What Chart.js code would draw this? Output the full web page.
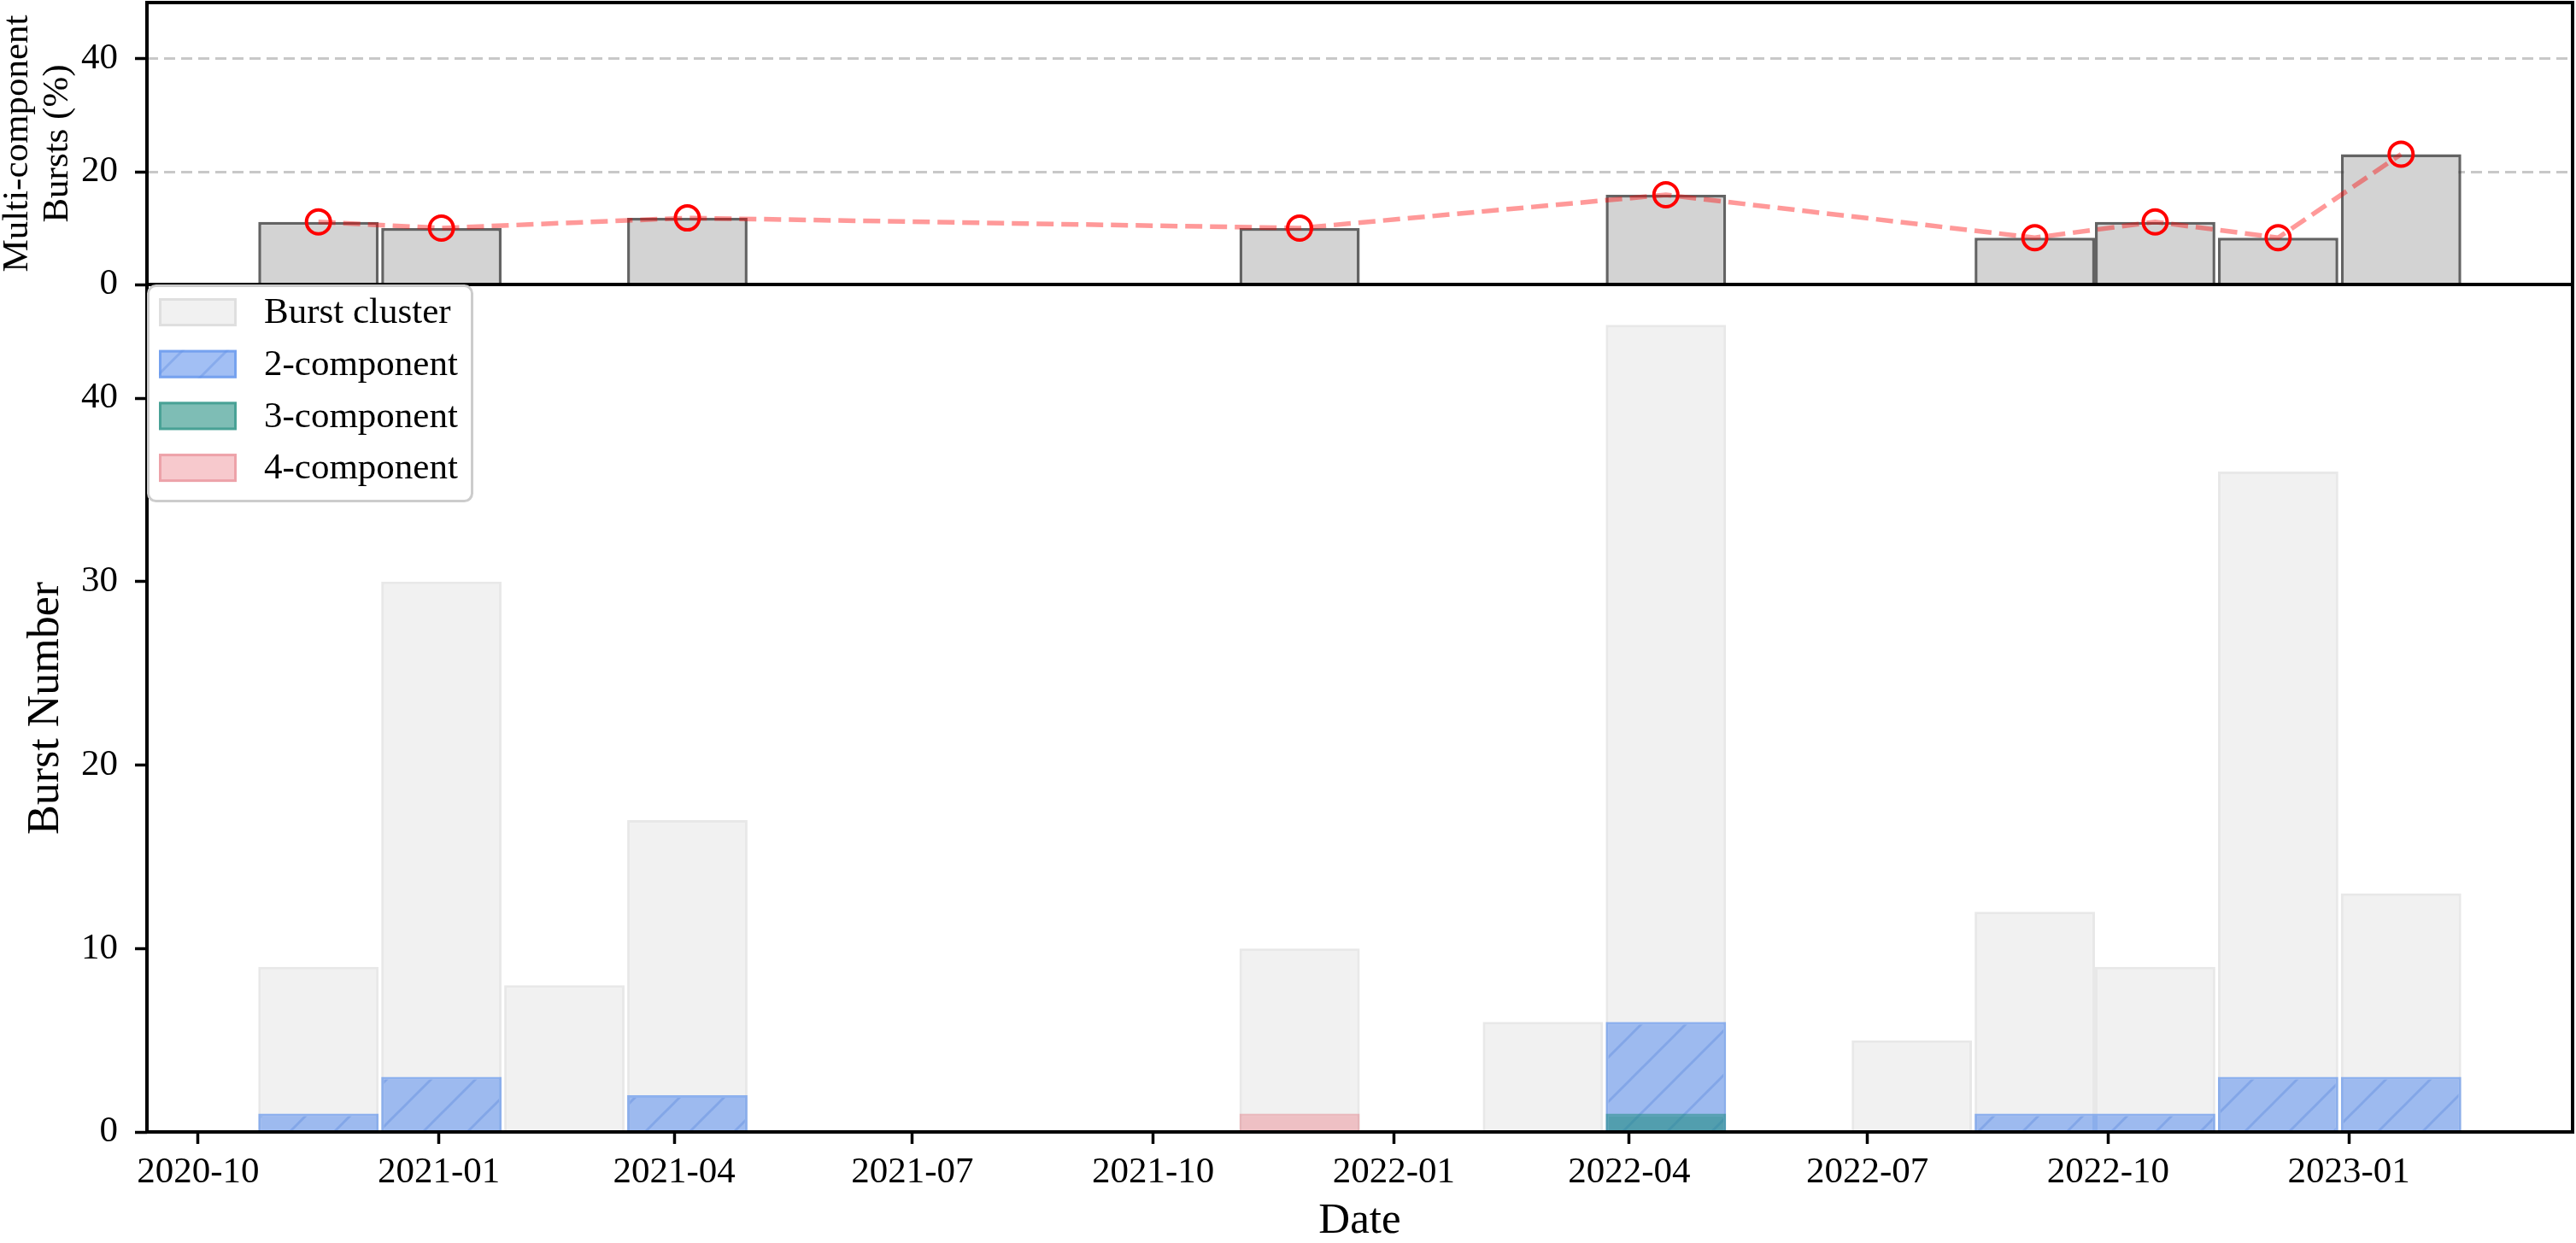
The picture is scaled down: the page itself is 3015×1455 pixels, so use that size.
<!DOCTYPE html>
<html lang="pt-BR">
<head>
<meta charset="utf-8">
<title>Multi-component bursts</title>
<script src="https://cdn.jsdelivr.net/npm/chart.js@4.4.1/dist/chart.umd.min.js"></script>
<style>
  html, body { margin: 0; padding: 0; background: #fff; }
  #painel { position: relative; width: 3015px; height: 1455px; }
  #painel canvas { position: absolute; left: 0; top: 0; }
</style>
</head>
<body>
<div id="painel">
  <canvas id="graficoPercentual" width="3015" height="1455"></canvas>
  <canvas id="graficoBursts" width="3015" height="1455"></canvas>
</div>
<script>
// Dados: um valor por bin do histograma
const centrosDosBins = [
    '2020-11-16', '2021-01-02', '2021-02-18', '2021-04-06', '2021-05-23', '2021-07-08',
    '2021-08-24', '2021-10-10', '2021-11-26', '2022-01-12', '2022-02-27', '2022-04-15',
    '2022-06-01', '2022-07-18', '2022-09-03', '2022-10-19', '2022-12-05', '2023-01-21'
];
const larguraDoBinDias = 46.8;

const burstCluster      = [9, 30, 8, 17, 0, 0, 0, 0, 10, 0, 6, 44, 0, 5, 12, 9, 36, 13];
const doisComponentes   = [1, 3, 0, 2, 0, 0, 0, 0, 0, 0, 0, 6, 0, 0, 1, 1, 3, 3];
const tresComponentes   = [0, 0, 0, 0, 0, 0, 0, 0, 0, 0, 0, 1, 0, 0, 0, 0, 0, 0];
const quatroComponentes = [0, 0, 0, 0, 0, 0, 0, 0, 1, 0, 0, 0, 0, 0, 0, 0, 0, 0];
const percentualMulti   = [11.1, 10.0, 0, 11.8, 0, 0, 0, 0, 10.0, 0, 0, 15.9, 0, 0, 8.3, 11.1, 8.3, 23.1];

const datasDosTicks = [
    '2020-10-01', '2021-01-01', '2021-04-01', '2021-07-01', '2021-10-01',
    '2022-01-01', '2022-04-01', '2022-07-01', '2022-10-01', '2023-01-01'
];
const ticksPercentual = [0, 20, 40];
const ticksBursts = [0, 10, 20, 30, 40];
const maxPercentual = 50;
const maxBursts = 46.2;

const FONTE = "'Liberation Serif', 'Times New Roman', serif";
Chart.defaults.font.family = FONTE;
Chart.defaults.color = '#000';

/**
 * @description Converte uma data ISO em dias desde o primeiro tick.
 */
function diasDesde(data) {
    return (Date.parse(data) - Date.parse(datasDosTicks[0])) / 86400000;
}

const xCentros = centrosDosBins.map(diasDesde);
const valoresDosTicks = datasDosTicks.map(diasDesde);
const rotulosDosTicks = datasDosTicks.map(d => d.slice(0, 7));

// Limites do eixo x com margem de 5% (como o matplotlib)
const bordaInicial = xCentros[0] - larguraDoBinDias / 2;
const bordaFinal = xCentros[xCentros.length - 1] + larguraDoBinDias / 2;
const margemX = 0.05 * (bordaFinal - bordaInicial);
const xMin = bordaInicial - margemX;
const xMax = bordaFinal + margemX;

/**
 * @description Monta os pontos {x, y}; valores zero viram null (sem barra).
 */
function pontos(serie) {
    return serie.map((v, i) => ({ x: xCentros[i], y: v > 0 ? v : null }));
}

/**
 * @description Cria o padrão hachurado "/" das barras de 2 componentes.
 */
function criarHachura(ctx, corFundo, corLinha) {
    const s = 52;
    const tile = document.createElement('canvas');
    tile.width = s;
    tile.height = s;
    const g = tile.getContext('2d');
    g.fillStyle = corFundo;
    g.fillRect(0, 0, s, s);
    g.strokeStyle = corLinha;
    g.lineWidth = 3;
    g.beginPath();
    g.moveTo(-s / 2, s / 2); g.lineTo(s / 2, -s / 2);
    g.moveTo(0, s); g.lineTo(s, 0);
    g.moveTo(s / 2, 1.5 * s); g.lineTo(1.5 * s, s / 2);
    g.stroke();
    return ctx.createPattern(tile, 'repeat');
}

// Desenha a moldura completa (4 lados) da área do gráfico
const pluginMoldura = {
    id: 'moldura',
    afterDatasetsDraw(chart) {
        const { ctx, chartArea: a } = chart;
        ctx.save();
        ctx.strokeStyle = '#000';
        ctx.lineWidth = 4;
        ctx.strokeRect(a.left, a.top, a.right - a.left, a.bottom - a.top);
        ctx.restore();
    }
};

// Legenda no canto superior esquerdo do painel inferior
const pluginLegenda = {
    id: 'legendaInterna',
    afterDraw(chart) {
        const { ctx, chartArea: a } = chart;
        const x0 = a.left + 1.5, y0 = a.top + 1.5, w = 379, h = 252, r = 9;
        ctx.save();
        ctx.beginPath();
        ctx.moveTo(x0 + r, y0);
        ctx.arcTo(x0 + w, y0, x0 + w, y0 + h, r);
        ctx.arcTo(x0 + w, y0 + h, x0, y0 + h, r);
        ctx.arcTo(x0, y0 + h, x0, y0, r);
        ctx.arcTo(x0, y0, x0 + w, y0, r);
        ctx.closePath();
        ctx.fillStyle = 'rgba(255,255,255,0.8)';
        ctx.fill();
        ctx.strokeStyle = '#cccccc';
        ctx.lineWidth = 3;
        ctx.stroke();

        chart.data.datasets.forEach((ds, i) => {
            const yTopo = a.top + 16 + i * 60.7;
            const xCaixa = a.left + 14;
            ctx.fillStyle = '#fff';
            ctx.fillRect(xCaixa, yTopo, 91, 33);
            ctx.fillStyle = ds.backgroundColor;
            ctx.fillRect(xCaixa, yTopo, 91, 33);
            ctx.strokeStyle = ds.borderColor;
            ctx.lineWidth = 3;
            ctx.strokeRect(xCaixa + 1.5, yTopo + 1.5, 88, 30);
            ctx.fillStyle = '#000';
            ctx.font = '43px ' + FONTE;
            ctx.textBaseline = 'middle';
            ctx.textAlign = 'left';
            ctx.fillText(ds.label, a.left + 137, yTopo + 18);
        });
        ctx.restore();
    }
};

/**
 * @description Configuração do eixo x compartilhado pelos dois painéis.
 */
function eixoX(comRotulos) {
    return {
        type: 'linear',
        display: comRotulos,
        min: xMin,
        max: xMax,
        offset: false,
        afterBuildTicks: escala => { escala.ticks = valoresDosTicks.map(v => ({ value: v })); },
        afterFit: escala => {
            if (comRotulos) escala.height = 130;
            escala.paddingLeft = 0;
            escala.paddingRight = 0;
        },
        ticks: {
            callback: (valor, i) => rotulosDosTicks[i],
            autoSkip: false,
            maxRotation: 0,
            minRotation: 0,
            padding: 8,
            font: { size: 43 }
        },
        grid: {
            display: true, drawOnChartArea: false, drawTicks: true, offset: false,
            tickLength: 14, tickWidth: 3.5, tickColor: '#000'
        },
        border: { display: false },
        title: {
            display: true, text: 'Date',
            font: { size: 51, lineHeight: 1 },
            padding: { top: 0, bottom: 0 }
        }
    };
}

/**
 * @description Fixa a largura do eixo y e zera o padding extra dos rótulos.
 */
function ajustarEixoY(escala) {
    escala.width = 172;
    escala.paddingTop = 0;
    escala.paddingBottom = 0;
}

/**
 * @description Painel superior: percentual de bursts multi-componente.
 */
function renderizarGraficoPercentual() {
    const ctx = document.getElementById('graficoPercentual').getContext('2d');
    new Chart(ctx, {
        type: 'bar',
        data: {
            datasets: [{
                type: 'line',
                label: 'Percentual',
                data: pontos(percentualMulti),
                borderColor: 'rgba(255, 0, 0, 0.4)',
                borderWidth: 5.5,
                borderDash: [20, 9],
                spanGaps: true,
                tension: 0,
                clip: false,
                pointRadius: 14,
                pointBorderWidth: 4,
                pointBorderColor: 'rgba(255, 0, 0, 1)',
                pointBackgroundColor: 'rgba(0, 0, 0, 0)',
                order: 1
            }, {
                label: 'Multi-component',
                data: pontos(percentualMulti),
                backgroundColor: 'rgba(211, 211, 211, 1)',
                borderColor: 'rgba(60, 60, 60, 0.8)',
                borderWidth: 3.5,
                barPercentage: 1,
                categoryPercentage: 1,
                grouped: false,
                inflateAmount: 0,
                order: 2
            }]
        },
        options: {
            responsive: false,
            animation: false,
            layout: { autoPadding: false, padding: { left: 0, right: 4, top: 3, bottom: 1122 } },
            scales: {
                x: eixoX(false),
                y: {
                    min: 0,
                    max: maxPercentual,
                    afterBuildTicks: escala => { escala.ticks = ticksPercentual.map(v => ({ value: v })); },
                    afterFit: ajustarEixoY,
                    ticks: { padding: 20, font: { size: 43 } },
                    grid: {
                        drawOnChartArea: true,
                        color: c => (c.tick && c.tick.value === 0) ? 'rgba(0,0,0,0)' : '#c8c8c8',
                        lineWidth: 3,
                        tickLength: 14, tickWidth: 3.5, tickColor: '#000'
                    },
                    border: { display: false, dash: [13, 7] },
                    title: {
                        display: true,
                        text: ['Multi-component', 'Bursts (%)'],
                        font: { size: 43, lineHeight: 1.1 },
                        padding: { top: -3, bottom: 0 }
                    }
                }
            },
            plugins: { legend: { display: false }, tooltip: { enabled: false } }
        },
        plugins: [pluginMoldura]
    });
}

/**
 * @description Painel inferior: número de bursts por bin, sobrepostos.
 */
function renderizarGraficoBursts() {
    const ctx = document.getElementById('graficoBursts').getContext('2d');
    const base = { barPercentage: 1, categoryPercentage: 1, grouped: false, inflateAmount: 0, borderWidth: 3 };
    new Chart(ctx, {
        type: 'bar',
        data: {
            datasets: [{
                ...base,
                label: 'Burst cluster',
                data: pontos(burstCluster),
                backgroundColor: 'rgba(211, 211, 211, 0.32)',
                borderColor: 'rgba(190, 190, 190, 0.35)',
                order: 4
            }, {
                ...base,
                label: '2-component',
                data: pontos(doisComponentes),
                backgroundColor: criarHachura(ctx, 'rgba(100, 149, 237, 0.6)', 'rgba(70, 120, 215, 0.28)'),
                borderColor: 'rgba(100, 149, 237, 0.7)',
                order: 3
            }, {
                ...base,
                label: '3-component',
                data: pontos(tresComponentes),
                backgroundColor: 'rgba(20, 135, 120, 0.55)',
                borderColor: 'rgba(20, 135, 120, 0.5)',
                order: 2
            }, {
                ...base,
                label: '4-component',
                data: pontos(quatroComponentes),
                backgroundColor: 'rgba(235, 120, 130, 0.4)',
                borderColor: 'rgba(225, 110, 120, 0.42)',
                order: 1
            }]
        },
        options: {
            responsive: false,
            animation: false,
            layout: { autoPadding: false, padding: { left: 0, right: 4, top: 333, bottom: 0 } },
            scales: {
                x: eixoX(true),
                y: {
                    min: 0,
                    max: maxBursts,
                    afterBuildTicks: escala => { escala.ticks = ticksBursts.map(v => ({ value: v })); },
                    afterFit: ajustarEixoY,
                    ticks: { padding: 20, font: { size: 43 } },
                    grid: {
                        drawOnChartArea: false,
                        tickLength: 14, tickWidth: 3.5, tickColor: '#000'
                    },
                    border: { display: false },
                    title: {
                        display: true, text: 'Burst Number',
                        font: { size: 52, lineHeight: 1 },
                        padding: { top: 28, bottom: 0 }
                    }
                }
            },
            plugins: { legend: { display: false }, tooltip: { enabled: false } }
        },
        plugins: [pluginMoldura, pluginLegenda]
    });
}

renderizarGraficoPercentual();
renderizarGraficoBursts();
</script>
</body>
</html>
